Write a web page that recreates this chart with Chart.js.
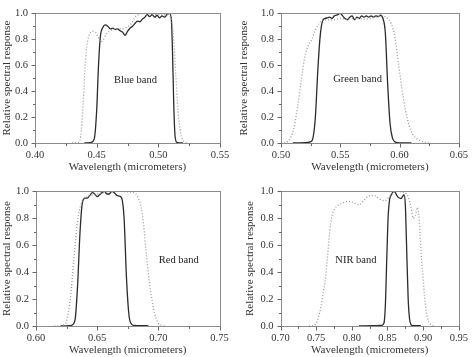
<!DOCTYPE html>
<html>
<head>
<meta charset="utf-8">
<script src="https://cdn.jsdelivr.net/npm/chart.js@4/dist/chart.umd.min.js"></script>
<style>
  html,body{margin:0;padding:0;background:#fff;}
  #wrap{position:relative;width:474px;height:357px;background:#fff;overflow:hidden;}
  canvas{position:absolute;}
</style>
</head>
<body>
<div id="wrap">
  <canvas id="c1" width="237" height="178" style="left:0;top:0"></canvas>
  <canvas id="c2" width="237" height="178" style="left:237px;top:0"></canvas>
  <canvas id="c3" width="237" height="179" style="left:0;top:178px"></canvas>
  <canvas id="c4" width="237" height="179" style="left:237px;top:178px"></canvas>
</div>
<script>
// ---- Data: [wavelength (µm), relative spectral response] ----
const blueSolid = [[0.440,0],[0.445,0.003],[0.448,0.03],[0.450,0.25],[0.4515,0.6],[0.453,0.82],[0.455,0.89],[0.457,0.91],[0.459,0.90],[0.461,0.88],[0.463,0.885],[0.465,0.875],[0.467,0.88],[0.469,0.865],[0.471,0.855],[0.473,0.83],[0.475,0.86],[0.477,0.885],[0.479,0.90],[0.481,0.92],[0.483,0.94],[0.485,0.935],[0.487,0.955],[0.489,0.97],[0.491,0.99],[0.493,0.975],[0.495,0.99],[0.497,0.97],[0.499,0.985],[0.501,0.965],[0.503,0.98],[0.505,0.97],[0.507,0.99],[0.509,1.0],[0.5105,0.96],[0.5115,0.7],[0.5125,0.3],[0.5135,0.06],[0.515,0.005],[0.520,0]];
const blueDotted = [[0.430,0],[0.435,0.005],[0.437,0.05],[0.439,0.3],[0.441,0.65],[0.443,0.80],[0.445,0.85],[0.447,0.86],[0.449,0.855],[0.451,0.82],[0.453,0.78],[0.455,0.79],[0.458,0.84],[0.462,0.87],[0.466,0.88],[0.470,0.88],[0.474,0.89],[0.478,0.92],[0.481,0.97],[0.484,0.99],[0.490,1.0],[0.500,0.99],[0.506,0.99],[0.510,0.97],[0.512,0.85],[0.514,0.55],[0.516,0.25],[0.518,0.08],[0.520,0.02],[0.523,0]];
const greenSolid = [[0.510,0],[0.520,0.002],[0.525,0.01],[0.527,0.04],[0.529,0.2],[0.531,0.55],[0.533,0.82],[0.535,0.94],[0.537,0.96],[0.539,0.965],[0.541,0.97],[0.543,0.96],[0.545,0.98],[0.548,0.99],[0.550,1.0],[0.552,0.98],[0.554,0.96],[0.556,0.95],[0.558,0.97],[0.560,0.98],[0.562,0.95],[0.564,0.97],[0.566,0.96],[0.568,0.98],[0.570,0.97],[0.572,0.98],[0.574,0.97],[0.576,0.98],[0.578,0.97],[0.580,0.98],[0.582,0.975],[0.584,0.985],[0.586,0.96],[0.588,0.85],[0.590,0.45],[0.592,0.15],[0.594,0.04],[0.596,0.01],[0.600,0],[0.610,0]];
const greenDotted = [[0.500,0],[0.504,0.005],[0.508,0.04],[0.511,0.12],[0.514,0.28],[0.517,0.48],[0.520,0.66],[0.523,0.75],[0.526,0.80],[0.529,0.87],[0.532,0.92],[0.535,0.95],[0.540,0.95],[0.545,0.95],[0.550,0.96],[0.555,0.955],[0.560,0.96],[0.565,0.96],[0.570,0.955],[0.575,0.96],[0.580,0.97],[0.585,0.98],[0.590,0.96],[0.593,0.92],[0.596,0.82],[0.599,0.62],[0.602,0.42],[0.605,0.25],[0.608,0.14],[0.611,0.07],[0.615,0.03],[0.620,0.01],[0.625,0]];
const redSolid = [[0.620,0],[0.628,0.002],[0.630,0.01],[0.632,0.05],[0.634,0.3],[0.636,0.7],[0.638,0.92],[0.640,0.95],[0.642,0.95],[0.644,0.97],[0.646,0.99],[0.648,0.98],[0.650,0.96],[0.652,0.975],[0.654,0.99],[0.656,1.0],[0.658,0.98],[0.660,0.98],[0.662,1.0],[0.664,0.99],[0.666,0.97],[0.668,0.965],[0.670,0.95],[0.672,0.8],[0.674,0.35],[0.676,0.08],[0.678,0.015],[0.680,0.005],[0.690,0.003],[0.692,0]];
const redDotted = [[0.615,0],[0.622,0.005],[0.625,0.04],[0.628,0.2],[0.631,0.5],[0.634,0.78],[0.637,0.91],[0.640,0.95],[0.645,0.97],[0.650,0.98],[0.655,0.99],[0.660,0.995],[0.665,1.0],[0.670,1.0],[0.675,0.995],[0.680,0.99],[0.683,0.96],[0.686,0.88],[0.688,0.75],[0.690,0.55],[0.692,0.38],[0.694,0.24],[0.696,0.13],[0.698,0.06],[0.700,0.02],[0.703,0.005],[0.705,0]];
const nirSolid = [[0.810,0],[0.830,0.003],[0.842,0.005],[0.845,0.02],[0.847,0.15],[0.849,0.5],[0.851,0.82],[0.853,0.94],[0.855,0.97],[0.857,0.99],[0.859,1.0],[0.861,0.99],[0.863,0.97],[0.865,0.955],[0.867,0.95],[0.869,0.945],[0.871,0.96],[0.873,0.975],[0.875,0.9],[0.877,0.55],[0.879,0.2],[0.881,0.05],[0.883,0.01],[0.885,0.003],[0.895,0.002],[0.897,0]];
const nirDotted = [[0.740,0],[0.747,0.005],[0.750,0.02],[0.753,0.06],[0.757,0.15],[0.760,0.25],[0.763,0.35],[0.766,0.52],[0.769,0.7],[0.772,0.81],[0.776,0.87],[0.782,0.90],[0.788,0.915],[0.794,0.925],[0.800,0.92],[0.805,0.91],[0.810,0.90],[0.815,0.92],[0.820,0.95],[0.827,0.97],[0.833,0.965],[0.840,0.94],[0.846,0.93],[0.851,0.95],[0.856,0.98],[0.862,1.0],[0.868,0.995],[0.874,0.99],[0.879,0.96],[0.883,0.88],[0.886,0.80],[0.889,0.82],[0.892,0.88],[0.894,0.82],[0.896,0.65],[0.898,0.48],[0.900,0.35],[0.902,0.22],[0.904,0.12],[0.906,0.06],[0.908,0.03],[0.911,0.01],[0.915,0]];

// axis ranges (x min, x max) per panel
const blueRange = [0.40, 0.55];
const greenRange = [0.50, 0.65];
const redRange = [0.60, 0.75];
const nirRange = [0.70, 0.95];
const xTickStep = 0.05;
const yTickStep = 0.2;

// band labels: text, x, y in data units
const bandLabels = [
  ["Blue band", 0.4815, 0.48],
  ["Green band", 0.5646, 0.49],
  ["Red band", 0.7167, 0.49],
  ["NIR band", 0.8057, 0.49]
];

const xTitle = "Wavelength (micrometers)";
const yTitle = "Relative spectral response";

// ---- styles / layout ----
const FONT = "'Liberation Serif', 'Times New Roman', serif";
const layouts = [
  {left:35, right:220, top:5,  bottom:143, h:178, titlePad:4, yTitlePad:1},
  {left:44, right:228, top:5,  bottom:143, h:178, titlePad:4, yTitlePad:1},
  {left:36, right:219.5, top:10, bottom:148, h:179, titlePad:0, yTitlePad:1},
  {left:43.5, right:228.5, top:10, bottom:148, h:179, titlePad:0, yTitlePad:7}
];

const framePlugin = {
  id: 'frame',
  afterDatasetsDraw(chart, args, opts) {
    const {ctx, chartArea: a, scales: {x, y}} = chart;
    ctx.save();
    ctx.strokeStyle = '#8c8c8c';
    ctx.lineWidth = 1;
    ctx.strokeRect(Math.round(a.left)+0.5, Math.round(a.top)+0.5, Math.round(a.right-a.left), Math.round(a.bottom-a.top));
    // tick marks
    ctx.strokeStyle = '#666';
    ctx.beginPath();
    const xmin = x.min, xmax = x.max;
    const nx = Math.round((xmax - xmin) / (xTickStep/2));
    for (let i = 0; i <= nx; i++) {
      const v = xmin + i * xTickStep/2;
      const px = Math.round(x.getPixelForValue(v)) + 0.5;
      const len = (i % 2 === 0) ? 4 : 2.5;
      ctx.moveTo(px, Math.round(a.bottom)+0.5);
      ctx.lineTo(px, Math.round(a.bottom)+0.5+len);
    }
    const ny = Math.round(1 / (yTickStep/2));
    for (let i = 0; i <= ny; i++) {
      const v = i * yTickStep/2;
      const py = Math.round(y.getPixelForValue(v)) + 0.5;
      const len = (i % 2 === 0) ? 4 : 2.5;
      ctx.moveTo(Math.round(a.left)+0.5, py);
      ctx.lineTo(Math.round(a.left)+0.5-len, py);
    }
    ctx.stroke();
    // band label
    const lab = opts.label;
    if (lab) {
      ctx.fillStyle = '#222';
      ctx.font = "10.5px " + FONT;
      ctx.textAlign = 'center';
      ctx.textBaseline = 'middle';
      ctx.fillText(lab[0], x.getPixelForValue(lab[1]), y.getPixelForValue(lab[2]));
    }
    ctx.restore();
  }
};

function makeChart(id, solid, dotted, range, label, lay) {
  const toPts = arr => arr.map(p => ({x: p[0], y: p[1]}));
  return new Chart(document.getElementById(id), {
    type: 'scatter',
    data: {
      datasets: [
        {data: toPts(dotted), showLine: true, borderColor: '#9a9a9a', borderWidth: 1.3, borderDash: [1, 2], pointRadius: 0, cubicInterpolationMode: 'monotone', fill: false},
        {data: toPts(solid), showLine: true, borderColor: '#2b2b2b', borderWidth: 1.3, pointRadius: 0, cubicInterpolationMode: 'monotone', fill: false}
      ]
    },
    options: {
      responsive: false,
      animation: false,
      devicePixelRatio: 1,
      layout: {padding: {left: 0, top: lay.top, right: 237 - lay.right, bottom: 0}},
      plugins: {legend: {display: false}, tooltip: {enabled: false}, frame: {label: label}},
      scales: {
        x: {
          type: 'linear', min: range[0], max: range[1],
          grid: {display: false, drawTicks: false},
          border: {display: false},
          ticks: {stepSize: xTickStep, padding: 6, color: '#333', font: {family: FONT, size: 10.5},
                  maxRotation: 0, autoSkip: false, callback: v => v.toFixed(2)},
          title: {display: true, text: xTitle, color: '#333', font: {family: FONT, size: 11}, padding: {top: 0, bottom: lay.titlePad}},
          afterFit: s => { s.height = lay.h - lay.bottom; }
        },
        y: {
          type: 'linear', min: 0, max: 1,
          grid: {display: false, drawTicks: false},
          border: {display: false},
          ticks: {stepSize: yTickStep, padding: 7, color: '#333', font: {family: FONT, size: 10.5}, callback: v => v.toFixed(1)},
          title: {display: true, text: yTitle, color: '#333', font: {family: FONT, size: 11}, padding: {top: lay.yTitlePad, bottom: 0}},
          afterFit: s => { s.width = lay.left; }
        }
      }
    },
    plugins: [framePlugin]
  });
}

makeChart('c1', blueSolid, blueDotted, blueRange, bandLabels[0], layouts[0]);
makeChart('c2', greenSolid, greenDotted, greenRange, bandLabels[1], layouts[1]);
makeChart('c3', redSolid, redDotted, redRange, bandLabels[2], layouts[2]);
makeChart('c4', nirSolid, nirDotted, nirRange, bandLabels[3], layouts[3]);
</script>
</body>
</html>
